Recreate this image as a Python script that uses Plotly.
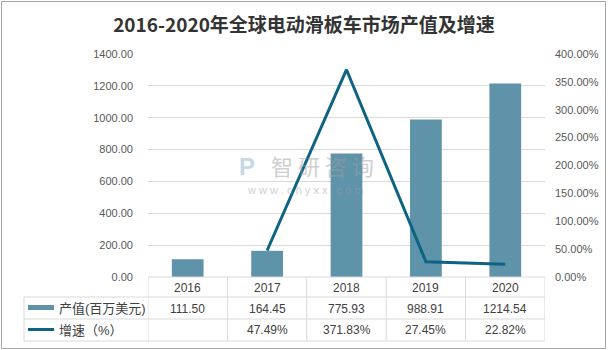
import plotly.graph_objects as go

# ---- data ----
years = ["2016", "2017", "2018", "2019", "2020"]
output_value = [111.50, 164.45, 775.93, 988.91, 1214.54]   # 产值(百万美元)
growth = [None, 47.49, 371.83, 27.45, 22.82]                # 增速（%）
series_names = ["产值(百万美元)", "增速（%）"]
title_text = "2016-2020年全球电动滑板车市场产值及增速"

# ---- layout constants ----
W, H = 608, 350
L, R, T, B = 148, 63, 54, 73
PW, PH = W - L - R, H - T - B
BAR_COLOR = "#5E93AA"
LINE_COLOR = "#0E6383"
GRID = "#D9D9D9"
FONT = "Liberation Sans, Noto Sans CJK SC, sans-serif"

def py(p):  # pixel y -> paper y
    return (H - B - p) / PH

def px(p):  # pixel x -> paper x
    return (p - L) / PW

fig = go.Figure()
fig.add_trace(go.Bar(x=years, y=output_value, name=series_names[0],
                     marker=dict(color=BAR_COLOR, line=dict(width=0)),
                     width=0.4, yaxis="y"))
fig.add_trace(go.Scatter(x=years, y=growth, name=series_names[1], mode="lines",
                         line=dict(color=LINE_COLOR, width=3), yaxis="y2",
                         connectgaps=False))

shapes = []
annotations = []
top, r1, r2, bot = 277, 297, 319, 341
n = len(years)
# vertical table lines (category boundaries)
for i in range(n + 1):
    shapes.append(dict(type="line", xref="x", yref="paper", x0=i - 0.5, x1=i - 0.5,
                       y0=py(top), y1=py(bot), line=dict(color=GRID, width=1)))
# left border of legend column
shapes.append(dict(type="line", xref="paper", yref="paper", x0=px(24), x1=px(24),
                   y0=py(r1), y1=py(bot), line=dict(color=GRID, width=1)))
# horizontal lines
shapes.append(dict(type="line", xref="paper", yref="paper", x0=0, x1=1,
                   y0=py(top), y1=py(top), line=dict(color=GRID, width=1)))
for yy in (r1, r2, bot):
    shapes.append(dict(type="line", xref="paper", yref="paper", x0=px(24), x1=1,
                       y0=py(yy), y1=py(yy), line=dict(color=GRID, width=1)))
# legend swatches
shapes.append(dict(type="rect", xref="paper", yref="paper", x0=px(28), x1=px(54),
                   y0=py(310), y1=py(305), fillcolor=BAR_COLOR, line=dict(width=0)))
shapes.append(dict(type="line", xref="paper", yref="paper", x0=px(28), x1=px(54),
                   y0=py(329.5), y1=py(329.5), line=dict(color=LINE_COLOR, width=3)))
# outer border
shapes.append(dict(type="rect", xref="paper", yref="paper", x0=px(1.5), x1=px(605.5),
                   y0=py(348.5), y1=py(1.5), line=dict(color="#A6A6A6", width=1)))

tf = dict(family=FONT, size=12, color="#404040")
lf = dict(family=FONT, size=13, color="#404040")
common = dict(showarrow=False, font=tf, yanchor="middle")
for i, yv in enumerate(years):
    annotations.append(dict(x=i, y=py(287.5), xref="x", yref="paper", text=yv,
                            xanchor="center", **common))
    annotations.append(dict(x=i, y=py(308.5), xref="x", yref="paper",
                            text=f"{output_value[i]:.2f}", xanchor="center", **common))
    if growth[i] is not None:
        annotations.append(dict(x=i, y=py(330), xref="x", yref="paper",
                                text=f"{growth[i]:.2f}%", xanchor="center", **common))
annotations.append(dict(x=px(57), y=py(308), xref="paper", yref="paper", xanchor="left",
                        text=series_names[0], showarrow=False, yanchor="middle", font=lf))
annotations.append(dict(x=px(57), y=py(330), xref="paper", yref="paper", xanchor="left",
                        text=series_names[1], showarrow=False, yanchor="middle", font=lf))
# watermark
annotations.append(dict(x=px(322), y=py(165), xref="paper", yref="paper",
                        text="智 研 咨 询", showarrow=False, yanchor="middle", xanchor="center",
                        font=dict(family="Noto Sans CJK SC", size=22, color="#A0A0A0"),
                        opacity=0.5))
annotations.append(dict(x=px(305), y=py(190), xref="paper", yref="paper",
                        text="w w w . c h y x x . c o m", showarrow=False, yanchor="middle",
                        xanchor="center",
                        font=dict(family=FONT, size=11, color="#A0A0A0"), opacity=0.5))
annotations.append(dict(x=px(247), y=py(166), xref="paper", yref="paper",
                        text="<b>P</b>", showarrow=False, yanchor="middle", xanchor="center",
                        font=dict(family=FONT, size=24, color="#AFC8DE"), opacity=0.7))

fig.update_layout(
    width=W, height=H,
    margin=dict(l=L, r=R, t=T, b=B, autoexpand=False),
    paper_bgcolor="white", plot_bgcolor="white",
    showlegend=False,
    bargap=0.6,
    title=dict(text=f"<b>{title_text}</b>", x=0.5, xanchor="center", y=1 - 25 / H,
               yanchor="middle", font=dict(family="Noto Sans CJK SC", size=19, color="#333333")),
    xaxis=dict(type="category", range=[-0.5, n - 0.5], showticklabels=False,
               showgrid=False, zeroline=False, showline=False, ticks=""),
    yaxis=dict(range=[0, 1400], dtick=200, tickformat=".2f", showgrid=True,
               gridcolor=GRID, gridwidth=1, zeroline=False, showline=False,
               ticks="", ticklabelstandoff=14,
               tickfont=dict(family=FONT, size=11, color="#595959")),
    yaxis2=dict(range=[0, 400], dtick=50, tickformat=".2f", ticksuffix="%",
                overlaying="y", side="right", showgrid=False, zeroline=False,
                showline=False, ticks="", ticklabelstandoff=9,
                tickfont=dict(family=FONT, size=11, color="#595959")),
    shapes=shapes, annotations=annotations,
)

fig.write_html("out.html")
